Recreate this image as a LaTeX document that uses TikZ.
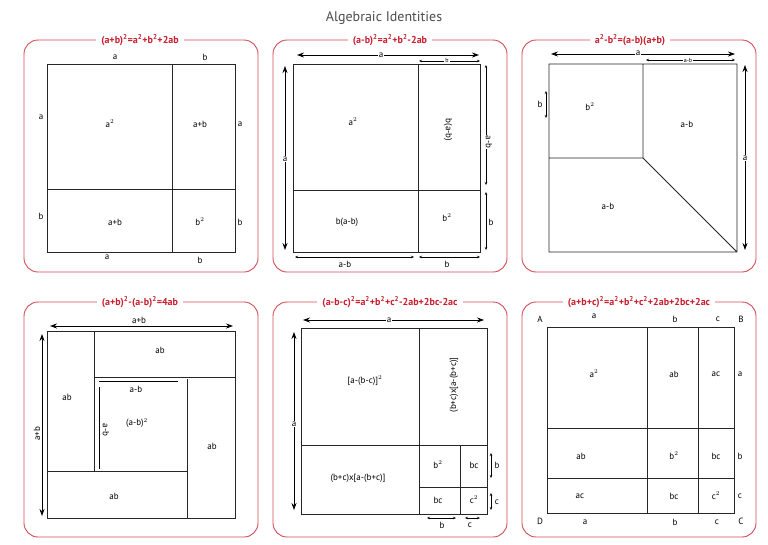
\documentclass[tikz,border=0pt]{standalone}
\usepackage{fontspec}
\setmainfont{PT Sans}
\usetikzlibrary{arrows.meta}
\definecolor{ired}{RGB}{200,30,45}
\tikzset{
 panel/.style={draw=ired!80,line width=0.9pt,rounded corners=14pt},
 ttl/.style={fill=white,text=ired,font=\fontsize{10}{12}\selectfont\bfseries,inner xsep=5pt,inner ysep=1pt},
 lbl/.style={font=\fontsize{9}{10}\selectfont,inner sep=1pt},
 sm/.style={font=\fontsize{6}{7}\selectfont,inner sep=1pt},
 box/.style={draw=black!85,line width=0.8pt},
 big/.style={{Stealth[length=7pt,width=5pt]}-{Stealth[length=7pt,width=5pt]},line width=0.8pt},
 thin/.style={{Stealth[length=3pt,width=2.5pt]}-{Stealth[length=3pt,width=2.5pt]},line width=0.5pt},
}
\begin{document}
\begin{tikzpicture}[x=1pt,y=-1pt]
\useasboundingbox[fill=white] (0,0) rectangle (768,544);
\node[font=\fontsize{14}{16}\selectfont,text=black!70] (T) at (384,18) {Algebraic Identities};
% panels
\foreach \x in {24,273,522}{
 \draw[panel] (\x,40) rectangle ++(234,232);
 \draw[panel] (\x,302) rectangle ++(234,235);}
% ---- panel 1
\node[ttl] at (140,40) {(a+b)$^{\mathbf 2}$=a$^{\mathbf 2}$+b$^{\mathbf 2}$+2ab};
\draw[box] (47,64) rectangle (235,252) (172,64)--(172,252) (47,189)--(235,189);
\foreach \p/\t in {{115,57}/a,{205,57}/b,{41,117}/a,{41,216}/b,{240,124}/a,{240,222}/b,{107,257}/a,{200,260}/b,{110,124}/a$^2$,{200,124}/a+b,{115,222}/a+b,{200,222}/b$^2$}
 \node[lbl] at (\p) {\t};
% ---- panel 2
\node[ttl] at (390,40) {(a-b)$^{\mathbf 2}$=a$^{\mathbf 2}$+b$^{\mathbf 2}$-2ab};
\draw[box] (293,64) rectangle (480,252) (418,64)--(418,252) (293,190)--(480,190);
\draw[big] (297,55)--(479,55); \node[lbl,fill=white] at (381,55) {a};
\draw[thin] (419,61)--(480,61); \node[sm,fill=white] at (447,60) {b};
\draw[big] (285,66)--(285,250); \node[lbl,fill=white] at (285,159) {a};
\draw[thin] (486,65)--(486,185); \node[lbl,fill=white,rotate=-90] at (489,142) {a-b};
\draw[thin] (486,192)--(486,250); \node[lbl,fill=white] at (491,222) {b};
\draw[thin] (295,257)--(414,257); \node[lbl] at (345,264) {a-b};
\draw[thin] (419,257)--(480,257); \node[lbl] at (447,264) {b};
\node[lbl] at (353,122) {a$^2$};
\node[lbl,rotate=-90] at (448,130) {b(a-b)};
\node[lbl] at (347,222) {b(a-b)};
\node[lbl] at (447,218) {b$^2$};
% ---- panel 3
\node[ttl] at (630,40) {a$^{\mathbf 2}$-b$^{\mathbf 2}$=(a-b)(a+b)};
\draw[box] (549,64) rectangle (737,252) (643,64)--(643,158)--(549,158) (643,158)--(737,252);
\draw[big] (551,54)--(735,54); \node[lbl,fill=white] at (638,53) {a};
\draw[thin] (646,60)--(735,60); \node[sm,fill=white] at (688,60) {a-b};
\draw[thin] (546,91)--(546,118); \node[lbl] at (540,104) {b};
\draw[big] (745,65)--(745,250); \node[lbl,fill=white] at (745,158) {a};
\node[lbl] at (590,107) {b$^2$};
\node[lbl] at (687,124) {a-b};
\node[lbl] at (608,206) {a-b};
% ---- panel 4
\node[ttl] at (140,302) {(a+b)$^{\mathbf 2}$-(a-b)$^{\mathbf 2}$=4ab};
\draw[box] (47,331) rectangle (235,518);
\draw[box] (94,331)--(94,471) (94,377)--(235,377) (187,379)--(187,518) (47,471)--(187,471);
\draw[line width=0.8pt] (99,381)--(178,381) (99,387)--(99,469);
\node[lbl] at (136,389) {a-b};
\node[lbl,rotate=-90] at (106,430) {a-b};
\node[lbl] at (137,423) {(a-b)$^2$};
\node[lbl] at (67,397) {ab}; \node[lbl] at (160,350) {ab};
\node[lbl] at (212,446) {ab}; \node[lbl] at (114,496) {ab};
\draw[big] (50,326)--(233,326); \node[lbl,fill=white] at (139,320) {a+b};
\draw[big] (42,334)--(42,516); \node[lbl,fill=white,rotate=90] at (37,434) {a+b};
% ---- panel 5
\node[ttl] at (390,302) {(a-b-c)$^{\mathbf 2}$=a$^{\mathbf 2}$+b$^{\mathbf 2}$+c$^{\mathbf 2}$-2ab+2bc-2ac};
\draw[box] (301,328) rectangle (487,514) (419,328)--(419,514) (301,445)--(487,445) (460,445)--(460,514) (419,487)--(487,487);
\draw[big] (303,320)--(484,320); \node[lbl,fill=white] at (389,320) {a};
\draw[big] (294,332)--(294,510); \node[lbl,fill=white] at (294,424) {a};
\draw[thin] (491,453)--(491,478); \node[lbl] at (497,465) {b};
\draw[thin] (491,493)--(491,510); \node[lbl] at (497,502) {c};
\draw[thin] (427,518)--(456,518); \node[lbl] at (442,525) {b};
\draw[thin] (465,518)--(480,518); \node[lbl] at (470,525) {c};
\node[lbl] at (365,381) {[a-(b-c)]$^2$};
\node[lbl,rotate=90] at (454,385) {(b+c)x[a-(b+c)]};
\node[lbl] at (358,478) {(b+c)x[a-(b+c)]};
\node[lbl] at (438,465) {b$^2$}; \node[lbl] at (474,465) {bc};
\node[lbl] at (438,500) {bc}; \node[lbl] at (474,500) {c$^2$};
% ---- panel 6
\node[ttl] at (639,302) {(a+b+c)$^{\mathbf 2}$=a$^{\mathbf 2}$+b$^{\mathbf 2}$+c$^{\mathbf 2}$+2ab+2bc+2ac};
\draw[box] (547,327) rectangle (734,513) (647,327)--(647,513) (698,327)--(698,513) (547,428)--(734,428) (547,478)--(734,478);
\foreach \p/\t in {{540,319}/A,{741,319}/B,{540,521}/D,{741,521}/C,{594,316}/a,{675,319}/b,{718,319}/c,{585,522}/a,{675,522}/b,{717,522}/c,{740,374}/a,{740,456}/b,{740,496}/c,{594,374}/a$^2$,{674,374}/ab,{716,374}/ac,{581,456}/ab,{674,456}/b$^2$,{716,456}/bc,{580,496}/ac,{674,496}/bc,{716,496}/c$^2$}
 \node[lbl] at (\p) {\t};
\end{tikzpicture}
\end{document}
